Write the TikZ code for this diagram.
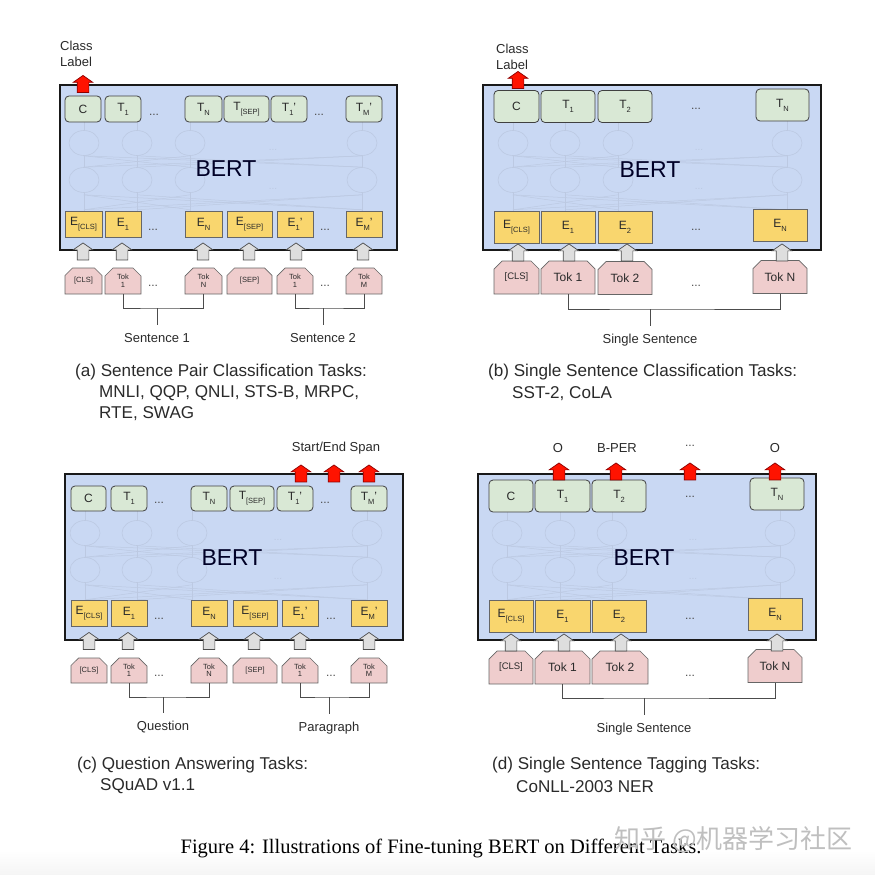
\documentclass[tikz,border=0pt]{standalone}
\usepackage{fontspec}
\setmainfont{Liberation Sans}
\newfontfamily\serifcap{Liberation Serif}
\newfontfamily\cjkmark{Noto Sans CJK SC}
\usetikzlibrary{shapes.misc,shapes.arrows,shapes.geometric,calc}
\definecolor{bertblue}{HTML}{C9D8F3}
\definecolor{netgray}{HTML}{BCC9E2}
\definecolor{outgreen}{HTML}{D9E8D5}
\definecolor{embyellow}{HTML}{F9D66E}
\definecolor{tokpink}{HTML}{EFCDCD}
\definecolor{inkdark}{HTML}{2A2A2A}
\newcommand{\fsz}[1]{\fontsize{#1}{#1}\selectfont}
\newcommand{\lowtxt}[1]{\raisebox{-0.35em}{\fontsize{7.5}{8}\selectfont #1}}
\tikzset{
  bertbox/.style={draw=black!90,line width=2pt,fill=bertblue,rectangle,inner sep=0pt},
  outbox/.style={draw=black!75,line width=0.8pt,fill=outgreen,rounded corners=4pt,inner sep=0pt,text=inkdark,font=\fsz{12}},
  embbox/.style={draw=black!60,line width=0.8pt,fill=embyellow,inner sep=0pt,text=inkdark,font=\fsz{12}},
  tokbox/.style={draw=black!60,line width=0.7pt,fill=tokpink,chamfered rectangle,chamfered rectangle corners={north west,north east},chamfered rectangle xsep=4pt,chamfered rectangle ysep=4pt,inner sep=0pt,align=center,text=inkdark},
  upgray/.style={single arrow,draw=black!70,line width=0.7pt,fill=black!13,shape border rotate=90,single arrow tip angle=110,single arrow head extend=4pt,minimum width=19pt,minimum height=17pt,inner xsep=5.5pt,inner ysep=0pt,yshift=-2pt},
  upred/.style={upgray,draw=red!55!black,fill=red!85!orange},
  dotlabel/.style={font=\fsz{12},text=black!70,inner sep=0pt,yshift=-3pt},
  txtlabel/.style={font=\fsz{13},text=inkdark,inner sep=0pt,yshift=-1pt},
  captext/.style={font=\fsz{17.1},text=inkdark,anchor=west,inner sep=0pt,yshift=-1.5pt},
  bertname/.style={font=\fsz{23},text=black!85!blue,inner sep=0pt},
  netcirc/.style={draw=netgray,line width=0.6pt,ellipse,minimum width=30pt,minimum height=25pt,inner sep=0pt},
  netdots/.style={text=netgray,font=\fsz{10},inner sep=0pt},
  netline/.style={draw=netgray,line width=0.5pt},
  linkline/.style={draw=black!70,line width=0.8pt}
}
% the faint network behind the BERT label
\newcommand{\bertnet}[7]{
  \foreach \k/\x in {1/#2,2/#3,3/#4,4/#5} {
    \node[netcirc] (#1u\k) at (\x,#6) {};
    \node[netcirc] (#1l\k) at (\x,#7) {};
    \draw[netline] (#1u\k.north) -- ++(0,-9);
    \draw[netline] (#1u\k.south) -- (#1l\k.north);
    \draw[netline] (#1l\k.south) -- ++(0,19);
  }
  \foreach \a/\b in {1/4,4/1,2/4,4/2,3/1,1/3} {
    \draw[netline] (#1l\a.north) -- (#1u\b.south);
    \draw[netline] ($(#1l\a.south)+(0,17)$) -- ($(#1l\b.south)+(0,2)$);
  }
}
\begin{document}
\begin{tikzpicture}[x=1pt,y=-1pt]
  \useasboundingbox (0,0) rectangle (875,875);
  \shade[top color=white,bottom color=black!4,draw=none] (0,850) rectangle (875,875);

  % (a) sentence pair
  \node[bertbox,minimum width=337,minimum height=165] (abert) at (228.5,167.5) {};
  \bertnet{a}{84}{137}{190}{362}{143}{180}
  \node[netdots] (anet1) at (273,150) {...};
  \node[netdots] (anet2) at (273,189) {...};
  \foreach \n/\x/\w/\t in {C/83/36/C,T1/123/36/T\lowtxt{1},TN/203.5/37/T\lowtxt{N},TS/246.5/45/T\lowtxt{[SEP]},Ta/289/36/T\lowtxt{1}',Tb/364/36/T\lowtxt{M}'}
    \node[outbox,minimum width=\w,minimum height=26] (a\n) at (\x,109) {\t};
  \foreach \n/\x/\w/\t in {EC/83.5/37/E\lowtxt{[CLS]},E1/123/36/E\lowtxt{1},EN/203.5/37/E\lowtxt{N},ES/249.5/45/E\lowtxt{[SEP]},Ea/295/36/E\lowtxt{1}',Eb/364/36/E\lowtxt{M}'}
    \node[embbox,minimum width=\w,minimum height=26] (a\n) at (\x,224) {\t};
  \foreach \n/\x/\w/\t in {kC/83.5/37/{[CLS]},k1/123/36/{Tok\\1},kN/203.5/37/{Tok\\N},kS/249.5/45/{[SEP]},ka/295/36/{Tok\\1},kb/364/36/{Tok\\M}}
    \node[tokbox,minimum width=\w,minimum height=26,font=\fsz{7.5}] (a\n) at (\x,281) {\t};
  \foreach \n/\x in {1/83,2/122,3/203,4/249,5/296,6/363}
    \node[upgray] (ag\n) at (\x,251.5) {};
  \node[upred] (ared) at (83,84) {};
  \foreach \n/\x/\y in {1/154/112,2/319/112,3/153/227,4/325/227,5/153/283,6/325/283}
    \node[dotlabel] (ad\n) at (\x,\y) {...};
  \node[bertname] (aname) at (226,169) {BERT};
  \node[txtlabel,align=left,anchor=west] (aclass) at (60,53) {Class\\[3pt]Label};
  \node[txtlabel] (asent1) at (157,337) {Sentence 1};
  \node[txtlabel] (asent2) at (323,337) {Sentence 2};
  \coordinate (ajoin1) at (157,308);
  \coordinate (ajoin2) at (323,308);
  \draw[linkline] (ak1.south) |- (ajoin1) -| (akN.south);
  \draw[linkline,shorten >=8pt] (ajoin1) -- (asent1.north);
  \draw[linkline] (aka.south) |- (ajoin2) -| (akb.south);
  \draw[linkline,shorten >=8pt] (ajoin2) -- (asent2.north);

  % (b) single sentence
  \node[bertbox,minimum width=338,minimum height=165] (bbert) at (652,167.5) {};
  \bertnet{b}{513}{565}{618}{787}{143}{180}
  \node[netdots] (bnet1) at (699,150) {...};
  \node[netdots] (bnet2) at (699,189) {...};
  \foreach \n/\x/\y/\w/\t in {C/516.5/106.5/45/C,T1/568/106.5/54/T\lowtxt{1},T2/625/106.5/54/T\lowtxt{2},TN/782.5/105/53/T\lowtxt{N}}
    \node[outbox,minimum width=\w,minimum height=32] (b\n) at (\x,\y) {\t};
  \foreach \n/\x/\y/\w/\t in {EC/516.5/227/45/E\lowtxt{[CLS]},E1/568/227/54/E\lowtxt{1},E2/625/227/54/E\lowtxt{2},EN/780/225/54/E\lowtxt{N}}
    \node[embbox,minimum width=\w,minimum height=32] (b\n) at (\x,\y) {\t};
  \foreach \n/\x/\y/\w/\f/\t in {kC/516.5/277.5/45/9.5/{[CLS]},k1/568/277.5/54/12/{Tok 1},k2/625/278/54/12/{Tok 2},kN/780/277/54/12/{Tok N}}
    \node[tokbox,minimum width=\w,minimum height=33,font=\fsz{\f}] (b\n) at (\x,\y) {\t};
  \foreach \n/\x in {1/518,2/569,3/627,4/782}
    \node[upgray] (bg\n) at (\x,252.5) {};
  \node[upred] (bred) at (518,80) {};
  \foreach \n/\y in {1/106,2/227,3/283}
    \node[dotlabel] (bd\n) at (696,\y) {...};
  \node[bertname] (bname) at (650,170) {BERT};
  \node[txtlabel,align=left,anchor=west] (bclass) at (496,56) {Class\\[3pt]Label};
  \node[txtlabel] (bsent) at (650,339) {Single Sentence};
  \coordinate (bjoin) at (650,309);
  \draw[linkline] (bk1.south) |- (bjoin) -| (bkN.south);
  \draw[linkline,shorten >=8pt] (bjoin) -- (bsent.north);

  % (c) question answering
  \node[bertbox,minimum width=338,minimum height=166] (cbert) at (234,557) {};
  \bertnet{c}{85}{137}{192}{367}{533}{570}
  \node[netdots] (cnet1) at (278,540) {...};
  \node[netdots] (cnet2) at (278,579) {...};
  \foreach \n/\x/\w/\t in {C/88.5/35/C,T1/129/36/T\lowtxt{1},TN/209/36/T\lowtxt{N},TS/252/44/T\lowtxt{[SEP]},Ta/295/36/T\lowtxt{1}',Tb/369/36/T\lowtxt{M}'}
    \node[outbox,minimum width=\w,minimum height=25] (c\n) at (\x,498.5) {\t};
  \foreach \n/\x/\w/\t in {EC/89/36/E\lowtxt{[CLS]},E1/129/36/E\lowtxt{1},EN/209/36/E\lowtxt{N},ES/255/44/E\lowtxt{[SEP]},Ea/300/36/E\lowtxt{1}',Eb/369/36/E\lowtxt{M}'}
    \node[embbox,minimum width=\w,minimum height=26] (c\n) at (\x,613) {\t};
  \foreach \n/\x/\w/\t in {kC/89/36/{[CLS]},k1/129/36/{Tok\\1},kN/209/36/{Tok\\N},kS/255/44/{[SEP]},ka/300/36/{Tok\\1},kb/369/36/{Tok\\M}}
    \node[tokbox,minimum width=\w,minimum height=25,font=\fsz{7.5}] (c\n) at (\x,670.5) {\t};
  \foreach \n/\x in {1/89,2/128,3/209,4/254,5/300,6/369}
    \node[upgray] (cg\n) at (\x,641) {};
  \foreach \n/\x in {1/301,2/334,3/369}
    \node[upred] (cr\n) at (\x,473.5) {};
  \foreach \n/\x/\y in {1/159/500,2/325/500,3/159/616,4/331/616,5/159/673,6/331/673}
    \node[dotlabel] (cd\n) at (\x,\y) {...};
  \node[bertname] (cname) at (232,558) {BERT};
  \node[txtlabel] (cspan) at (336,447) {Start/End Span};
  \node[txtlabel] (cques) at (163,726) {Question};
  \node[txtlabel] (cpara) at (329,727) {Paragraph};
  \coordinate (cjoin1) at (163,697);
  \coordinate (cjoin2) at (329,697);
  \draw[linkline] (ck1.south) |- (cjoin1) -| (ckN.south);
  \draw[linkline,shorten >=8pt] (cjoin1) -- (cques.north);
  \draw[linkline] (cka.south) |- (cjoin2) -| (ckb.south);
  \draw[linkline,shorten >=8pt] (cjoin2) -- (cpara.north);

  % (d) tagging
  \node[bertbox,minimum width=338,minimum height=166] (dbert) at (647,557) {};
  \bertnet{d}{507}{560}{612}{780}{533}{570}
  \node[netdots] (dnet1) at (693,540) {...};
  \node[netdots] (dnet2) at (693,579) {...};
  \foreach \n/\x/\y/\w/\t in {C/511/496/44/C,T1/562.5/496/55/T\lowtxt{1},T2/619/496/54/T\lowtxt{2},TN/777/494/54/T\lowtxt{N}}
    \node[outbox,minimum width=\w,minimum height=32] (d\n) at (\x,\y) {\t};
  \foreach \n/\x/\y/\w/\t in {EC/511/616/44/E\lowtxt{[CLS]},E1/562.5/616/55/E\lowtxt{1},E2/619/616/54/E\lowtxt{2},EN/775/614/54/E\lowtxt{N}}
    \node[embbox,minimum width=\w,minimum height=32] (d\n) at (\x,\y) {\t};
  \foreach \n/\x/\y/\w/\f/\t in {kC/511/667.5/44/9.5/{[CLS]},k1/562.5/667.5/55/12/{Tok 1},k2/620/667.5/56/12/{Tok 2},kN/775/666/54/12/{Tok N}}
    \node[tokbox,minimum width=\w,minimum height=33,font=\fsz{\f}] (d\n) at (\x,\y) {\t};
  \foreach \n/\x in {1/511,2/564,3/621,4/777}
    \node[upgray] (dg\n) at (\x,642.5) {};
  \foreach \n/\x in {1/559,2/616,3/690,4/775}
    \node[upred] (dr\n) at (\x,471.5) {};
  \foreach \n/\y in {1/494,2/616,3/673}
    \node[dotlabel] (dd\n) at (690,\y) {...};
  \node[bertname] (dname) at (644,558) {BERT};
  \node[txtlabel] (dtag1) at (558,447) {O};
  \node[txtlabel] (dtag2) at (617,447) {B-PER};
  \node[dotlabel] (dtag3) at (690,443) {...};
  \node[txtlabel] (dtag4) at (775,447) {O};
  \node[txtlabel] (dsent) at (644,728) {Single Sentence};
  \coordinate (djoin) at (644,698);
  \draw[linkline] (dk1.south) |- (djoin) -| (dkN.south);
  \draw[linkline,shorten >=8pt] (djoin) -- (dsent.north);

  % captions
  \node[captext] (acap1) at (75,371) {(a) Sentence Pair Classification Tasks:};
  \node[captext] (acap2) at (99,392) {MNLI, QQP, QNLI, STS-B, MRPC,};
  \node[captext] (acap3) at (99,412) {RTE, SWAG};
  \node[captext] (bcap1) at (488,371) {(b) Single Sentence Classification Tasks:};
  \node[captext] (bcap2) at (512,392) {SST-2, CoLA};
  \node[captext] (ccap1) at (77,764) {(c) Question Answering Tasks:};
  \node[captext] (ccap2) at (100,785) {SQuAD v1.1};
  \node[captext] (dcap1) at (492,764) {(d) Single Sentence Tagging Tasks:};
  \node[captext] (dcap2) at (516,785) {CoNLL-2003 NER};
  \node[font=\serifcap\fsz{20.5},text=black,inner sep=0pt] (figcap) at (441,848) {Figure 4: Illustrations of Fine-tuning BERT on Different Tasks.};
  \node[font=\cjkmark\fsz{26},text=black!25,inner sep=0pt,anchor=east] (wmark) at (853,840) {知乎 @机器学习社区};
\end{tikzpicture}
\end{document}
